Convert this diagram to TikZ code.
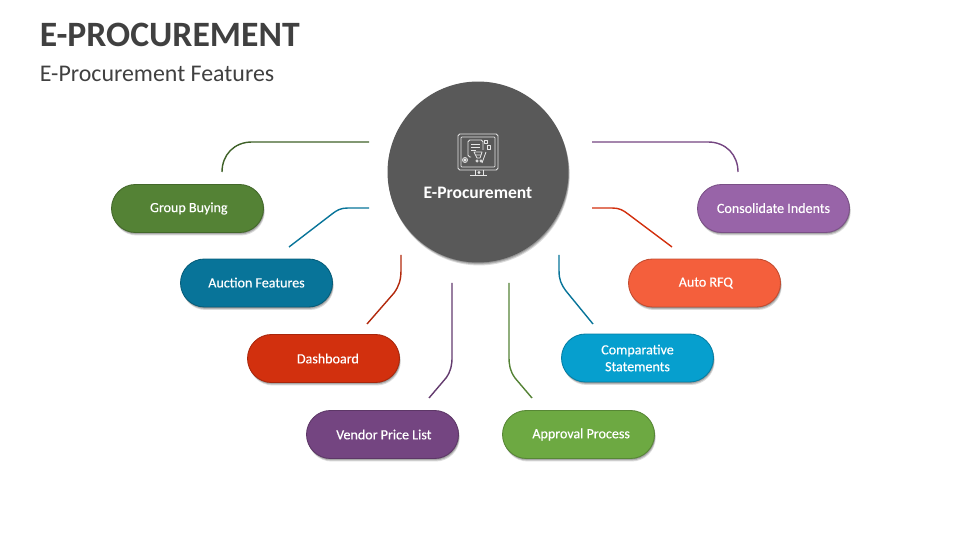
\documentclass[tikz,border=0pt]{standalone}
\usepackage{fontspec}
\setmainfont{Carlito}
\newfontfamily\pillfont[FakeBold=0.35]{Carlito}
\usetikzlibrary{shapes.misc, shadows}
\definecolor{ink}{HTML}{404040}
\definecolor{hubfill}{HTML}{595959}
\definecolor{groupc}{HTML}{548235}
\definecolor{auctionc}{HTML}{087499}
\definecolor{dashc}{HTML}{D2300E}
\definecolor{vendorc}{HTML}{744581}
\definecolor{approvalc}{HTML}{6DA942}
\definecolor{comparec}{HTML}{069FCE}
\definecolor{rfqc}{HTML}{F45F3C}
\definecolor{indentc}{HTML}{9864A8}
\tikzset{
    softshadow/.style={drop shadow={shadow xshift=0.7pt, shadow yshift=-1.7pt, opacity=0.14, fill=black}, drop shadow={shadow xshift=0.5pt, shadow yshift=-1.1pt, opacity=0.18, fill=black}, drop shadow={shadow xshift=0.3pt, shadow yshift=-0.5pt, opacity=0.18, fill=black}},
    pill/.style={rounded rectangle, rounded rectangle arc length=180, minimum width=3.04cm, minimum height=0.96cm, inner sep=0pt, align=center, text=white, font=\pillfont\fontsize{8}{9.6}\selectfont, fill=#1, draw=#1!80!black, line width=0.5pt, softshadow},
    wire/.style={draw=#1, line width=0.8pt},
    icon/.style={draw=white!85!hubfill, line width=0.45pt, line join=round}
}
\begin{document}
\begin{tikzpicture}[x=0.02cm, y=-0.02cm]
    \useasboundingbox (0,0) rectangle (960,540);
    \node[anchor=base west, inner sep=0pt, text=ink, font=\fontsize{20.3}{24}\selectfont\bfseries] (title) at (39.5,47) {E-PROCUREMENT};
    \node[anchor=base west, inner sep=0pt, text=ink, font=\fontsize{13.6}{16}\selectfont] (subtitle) at (39.5,82) {E-Procurement Features};

    \node[circle, minimum size=3.62cm, inner sep=0pt, fill=hubfill, softshadow] (hub) at (478,172) {};
    \node[inner sep=0pt, text=white, font=\fontsize{10}{12}\selectfont\bfseries] (hubtext) at (478,193) {E-Procurement};

    \draw[icon, rounded corners=1pt] (458,134) rectangle (498,170);
    \draw[icon, rounded corners=0.5pt] (461,137) rectangle (495,167);
    \draw[icon] (475,170) -- (475,175) (483,170) -- (483,175);
    \draw[icon] (470,175.5) -- (487,175.5);
    \draw[icon] (479,172.5) circle (1);
    \draw[icon, rounded corners=1pt] (471,157) -- (468,157) -- (468,140) -- (483,140) -- (483,150);
    \draw[icon] (471,144) -- (480,144) (471,147) -- (480,147) (471,150) -- (476,150);
    \draw[icon] (474,152) -- (482,152) -- (480,158) -- (477,158) -- cycle;
    \draw[icon] (476,155) -- (481,155) (482,163) -- (486,152);
    \draw[icon] (477,161) circle (1.2) (481,161) circle (1.2);
    \draw[icon] (465,160) circle (2.5) (465,160) circle (1);
    \draw[icon] (484,140) rectangle (487,143) (487,145) rectangle (490,149);

    \node[pill=groupc] (group) at (187.5,208.5) {\hspace*{1.5pt}Group Buying};
    \node[pill=auctionc] (auction) at (256.5,283) {\raisebox{0.5pt}{Auction Features}};
    \node[pill=dashc] (dash) at (323.5,358.5) {\hspace*{5pt}\raisebox{-1.5pt}{Dashboard}};
    \node[pill=vendorc] (vendor) at (382.5,434.5) {\hspace*{1.5pt}Vendor Price List};
    \node[pill=approvalc] (approval) at (578.5,434.5) {\hspace*{3pt}Approval Process};
    \node[pill=comparec] (compare) at (637.5,358) {Comparative\\Statements};
    \node[pill=rfqc] (rfq) at (704.5,283) {\hspace*{1.5pt}Auto RFQ};
    \node[pill=indentc] (indent) at (773.5,208.5) {\raisebox{0.5pt}{Consolidate Indents}};

    \coordinate (groupa) at (369,142);
    \coordinate (groupb) at (222,172);
    \coordinate (auctiona) at (369,208);
    \coordinate (auctionb) at (289,247);
    \coordinate (dasha) at (401,255);
    \coordinate (dashb) at (367,324);
    \coordinate (vendora) at (452,283);
    \coordinate (vendorb) at (429,398);
    \coordinate (approvala) at (509,283);
    \coordinate (approvalb) at (532,398);
    \coordinate (comparea) at (559,255);
    \coordinate (compareb) at (593,324);
    \coordinate (rfqa) at (592,208);
    \coordinate (rfqb) at (672,247);
    \coordinate (indenta) at (592,142);
    \coordinate (indentb) at (738,172);

    \draw[wire=groupc!75!black] (groupa) -- (252,142) .. controls (234,142) and (222,155) .. (groupb);
    \draw[wire=auctionc] (auctiona) -- (348,208) .. controls (341,208) and (337,210) .. (332,214) -- (auctionb);
    \draw[wire=dashc!85!black] (dasha) -- (401,270) .. controls (401,280) and (399,286) .. (394,293) -- (dashb);
    \draw[wire=vendorc!85!black] (vendora) -- (452,357) .. controls (452,365) and (451,371) .. (446,378) -- (vendorb);
    \draw[wire=groupc] (approvala) -- (509,357) .. controls (509,365) and (510,371) .. (515,378) -- (approvalb);
    \draw[wire=auctionc] (comparea) -- (559,270) .. controls (559,280) and (561,284) .. (566,291) -- (compareb);
    \draw[wire=dashc] (rfqa) -- (612,208) .. controls (619,208) and (623,210) .. (628,214) -- (rfqb);
    \draw[wire=vendorc] (indenta) -- (708,142) .. controls (726,142) and (738,155) .. (indentb);
\end{tikzpicture}
\end{document}
